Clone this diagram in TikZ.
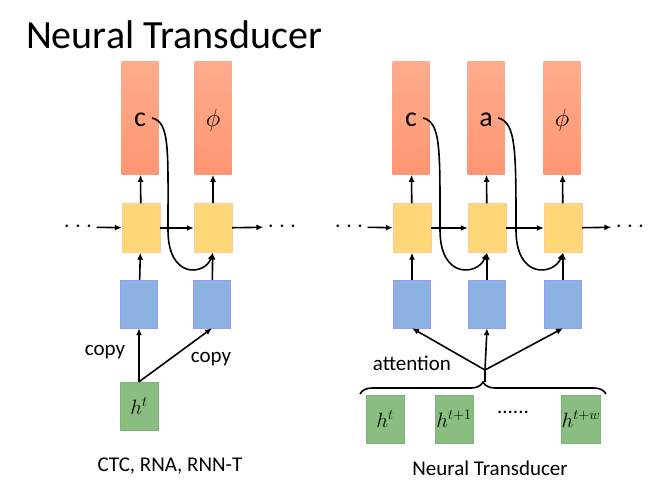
\documentclass[tikz,border=0pt]{standalone}
\usepackage{fontspec}
\setmainfont{Carlito}
\usetikzlibrary{decorations.pathreplacing,arrows.meta}
\definecolor{encblue}{RGB}{140,178,226}
\definecolor{hidgreen}{RGB}{138,190,128}
\definecolor{cellyel}{RGB}{255,214,120}
\begin{document}
\begin{tikzpicture}[x=1pt, y=-1pt, line width=1.6pt, >={Latex[length=7pt,width=6pt]},
    outbox/.style={draw=none, top color=orange!55!red!45, bottom color=orange!50!red!55, minimum width=37pt, minimum height=112pt, inner sep=0pt},
    cell/.style={fill=cellyel, draw=orange!40, line width=0.4pt, minimum width=38pt, minimum height=49pt, inner sep=0pt},
    enc/.style={fill=encblue, draw=blue!40, line width=0.4pt, minimum width=37pt, minimum height=48pt, inner sep=0pt},
    hid/.style={fill=hidgreen, draw=green!40!black!50, line width=0.4pt, minimum width=38pt, minimum height=48pt, inner sep=0pt, font=\fontsize{22}{22}\selectfont},
    lab/.style={font=\fontsize{28}{28}\selectfont},
    dots/.style={font=\fontsize{24}{24}\selectfont},
    txt/.style={font=\fontsize{21}{21}\selectfont}
]
\useasboundingbox (0,0) rectangle (666,487);
\fill[white] (0,0) rectangle (666,487);

% --- Titel ---
\node[anchor=west, font=\fontsize{40}{40}\selectfont] (title) at (22,35) {Neural Transducer};

% --- links: CTC, RNA, RNN-T ---
\node[outbox] (lo1) at (140,118) {};
\node[outbox] (lo2) at (213,118) {};
\node[lab] at (140,120) {c};
\node[lab] at (213,120) {$\phi$};
\node[cell] (ly1) at (141,228) {};
\node[cell] (ly2) at (213,228) {};
\node[enc] (lb1) at (139,304) {};
\node[enc] (lb2) at (212,304) {};
\node[hid] (lh) at (139,406) {$h^t$};
\node[dots] (ldl) at (78,227) {$\cdots$};
\node[dots] (ldr) at (282,227) {$\cdots$};

\draw[->] (ly1) -- (lo1);
\draw[->] (ly2) -- (lo2);
\draw[->] (lb1) -- (ly1);
\draw[->] (lb2) -- (ly2);
\draw[->] (ldl) -- (ly1);
\draw[->] (ly1) -- (ly2);
\draw[->] (ly2) -- (ldr);
\draw[->] (lh) -- (lb1);
\draw[->] (lh.north) -- (lb2.south);
\node[txt] at (105,352) {copy};
\node[txt] at (211,359) {copy};
\draw[->] (152,118) .. controls (170,122) and (168,150) .. (168,230)
    .. controls (168,280) and (205,275) .. (ly2.south);

\node[txt] (lcap) at (170,466) {CTC, RNA, RNN-T};

% --- rechts: Neural Transducer ---
\foreach \i/\x/\t in {1/411/c, 2/486/a, 3/562/$\phi$} {
  \node[outbox] (ro\i) at (\x,118) {};
  \node[lab] at (\x,120) {\t};
  \node[cell] (ry\i) at (\x+1,228) {};
  \node[enc] (rb\i) at (\x+1,304) {};
  \draw[->] (ry\i) -- (ro\i);
  \draw[->] (rb\i) -- (ry\i);
}
\node[dots] (rdl) at (349,227) {$\cdots$};
\node[dots] (rdr) at (630,227) {$\cdots$};
\draw[->] (rdl) -- (ry1);
\draw[->] (ry1) -- (ry2);
\draw[->] (ry2) -- (ry3);
\draw[->] (ry3) -- (rdr);
\draw[->] (423,118) .. controls (441,122) and (440,150) .. (440,230)
    .. controls (440,280) and (478,275) .. (ry2.south);
\draw[->] (498,118) .. controls (516,122) and (516,150) .. (516,230)
    .. controls (516,280) and (554,275) .. (ry3.south);

\node[hid] (rh1) at (385,419) {$h^t$};
\node[hid] (rh2) at (454,419) {$h^{t+1}$};
\node[txt] (rdots) at (513,412) {......};
\node[hid] (rh3) at (581,419) {$h^{t+w}$};
\draw[decorate, decoration={brace, amplitude=12pt}] (360,394) -- (606,394);
\coordinate (att) at (485,370);
\draw (485,382) -- (att);
\draw[->] (att) -- (rb1.south);
\draw[->] (att) -- (rb2.south);
\draw[->] (att) -- (rb3.south);
\node[txt] at (412,363) {attention};
\node[txt] (rcap) at (490,468) {Neural Transducer};
\end{tikzpicture}
\end{document}
